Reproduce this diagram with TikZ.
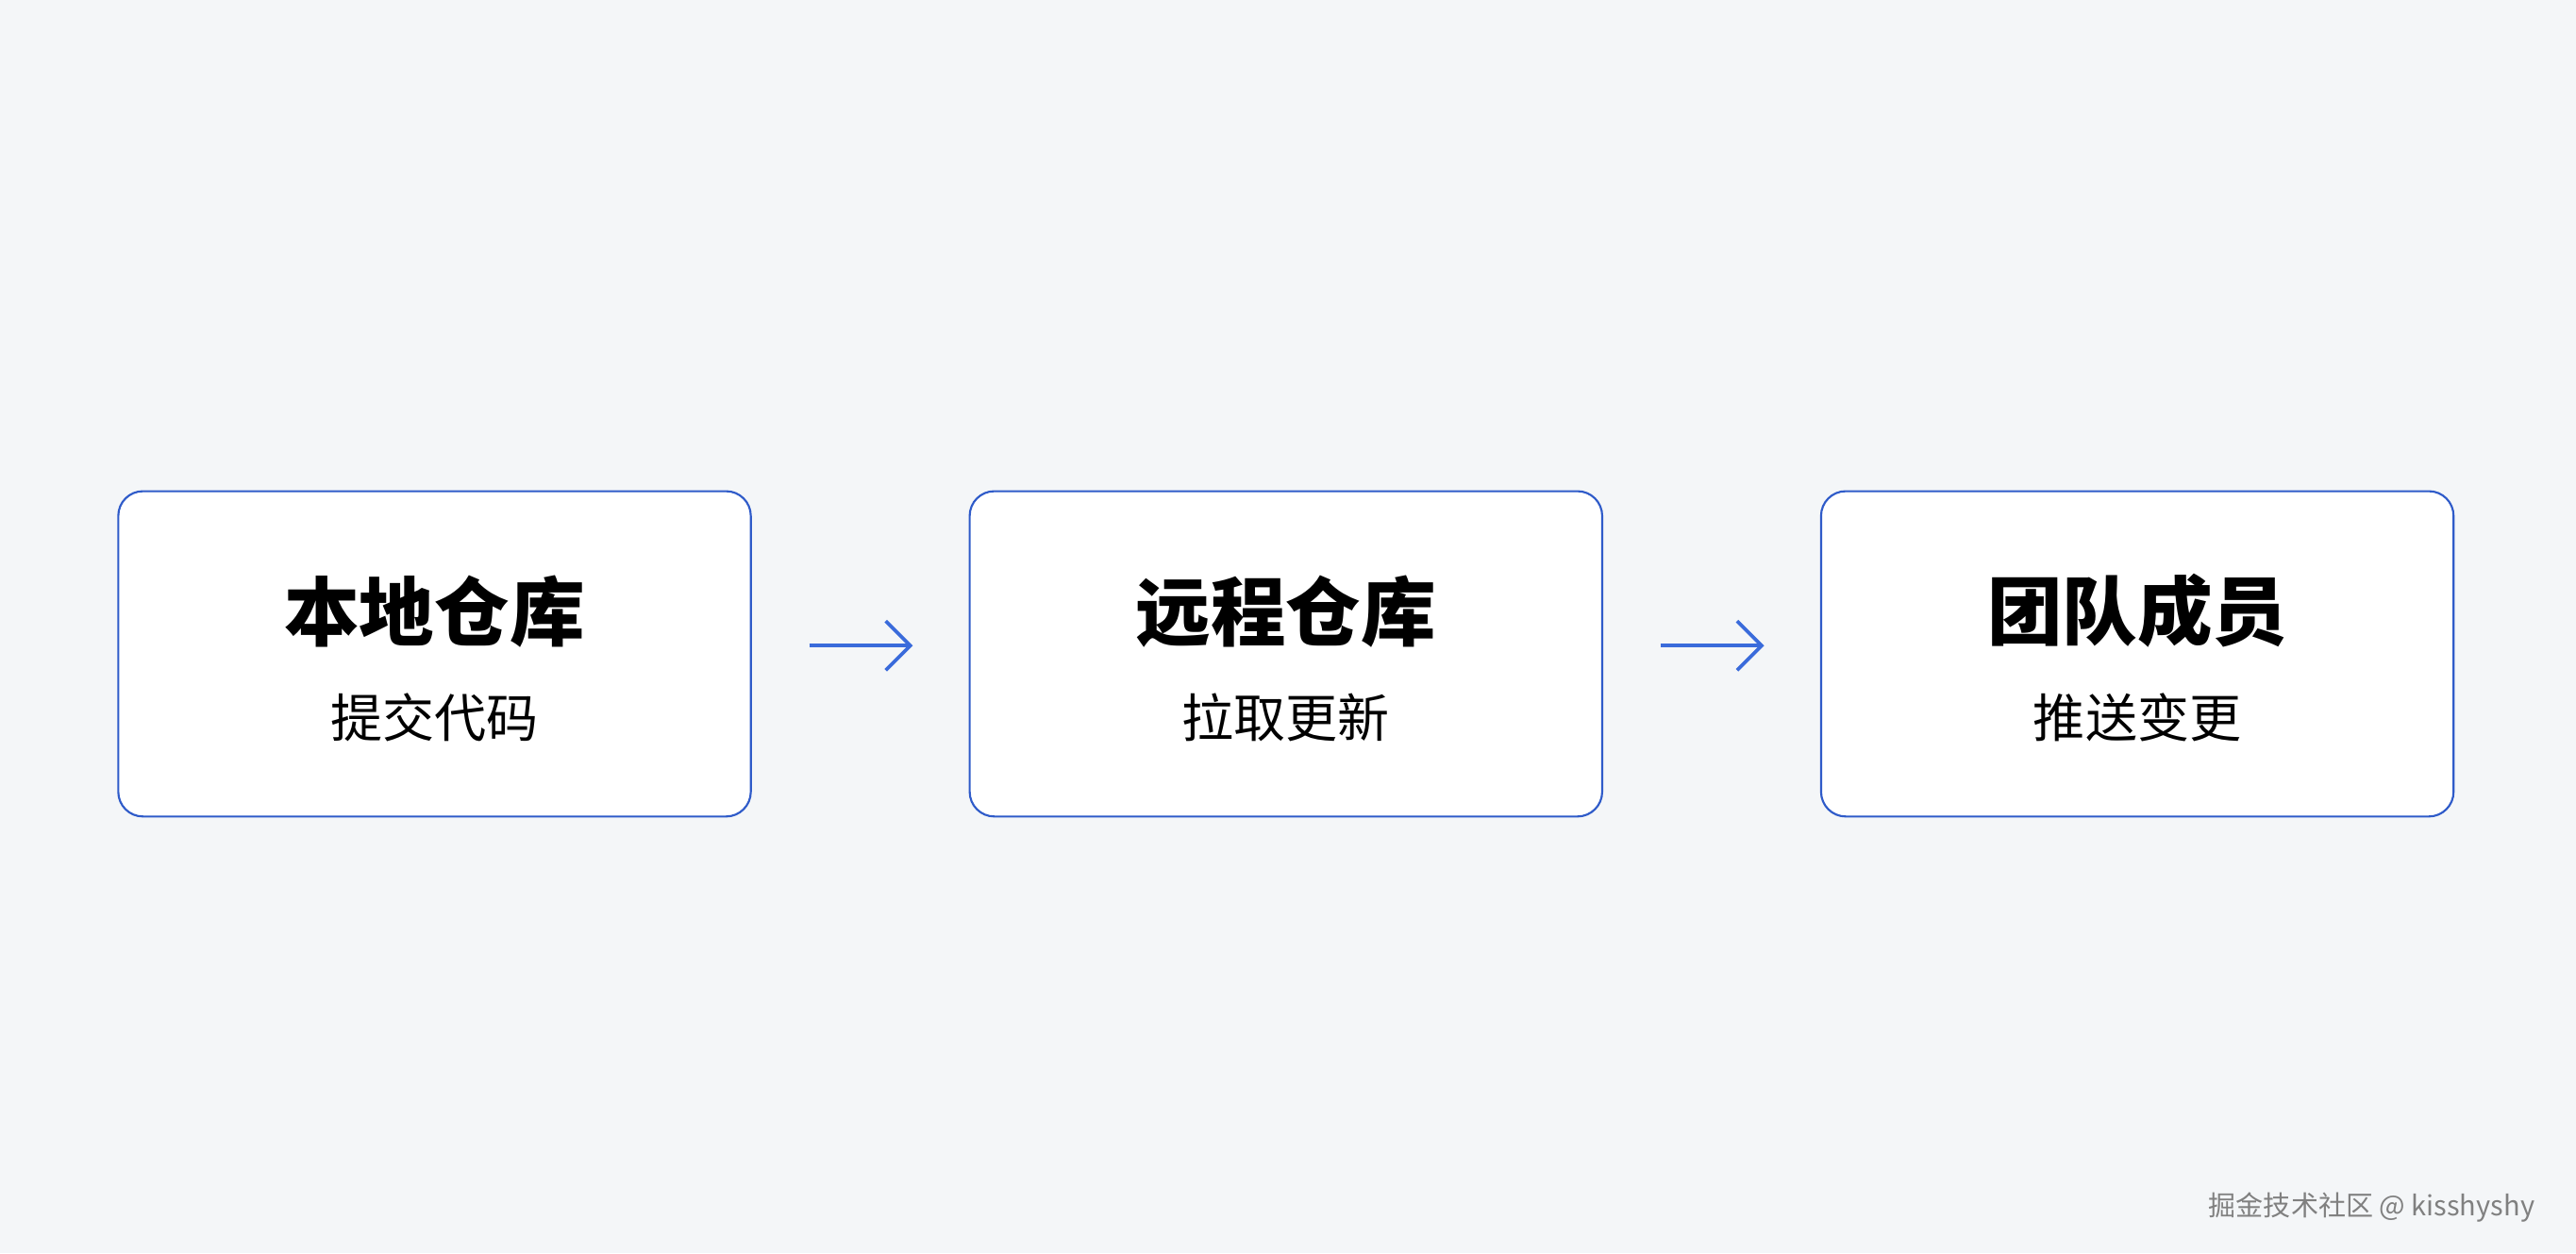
\documentclass[tikz,border=0pt]{standalone}
\usepackage{fontspec}
\newfontfamily\cjk{Noto Sans CJK SC}
\usetikzlibrary{positioning,arrows.meta}
\definecolor{bg}{HTML}{F4F6F8}
\definecolor{boxline}{HTML}{2F5BC9}
\definecolor{arrowblue}{HTML}{3A6BDB}
\begin{document}
\begin{tikzpicture}[
  > = {Straight Barb[length=3mm,width=6mm]},
  repo/.style = {draw=boxline, line width=0.7pt, fill=white, rounded corners=0.3cm,
                 minimum width=7.7cm, minimum height=3.96cm},
  flow/.style = {->, draw=arrowblue, line width=1.2pt, shorten >=0.68cm, shorten <=0.7cm}
  ]
	\fill[bg] (0,0) rectangle (31.36,15.26);
	\useasboundingbox (0,0) rectangle (31.36,15.26);

	\node[repo] (local) at (5.29,7.3) {};
	\node[repo, right=2.64cm of local] (remote) {};
	\node[repo, right=2.64cm of remote] (team) {};

	\node[font=\cjk\bfseries\fontsize{26}{30}\selectfont] (t1) at ([yshift=0.52cm]local.center) {本地仓库};
	\node[font=\cjk\fontsize{18}{22}\selectfont] (s1) at ([yshift=-0.78cm]local.center) {提交代码};
	\node[font=\cjk\bfseries\fontsize{26}{30}\selectfont] (t2) at ([yshift=0.52cm]remote.center) {远程仓库};
	\node[font=\cjk\fontsize{18}{22}\selectfont] (s2) at ([yshift=-0.78cm]remote.center) {拉取更新};
	\node[font=\cjk\bfseries\fontsize{26}{30}\selectfont] (t3) at ([yshift=0.52cm]team.center) {团队成员};
	\node[font=\cjk\fontsize{18}{22}\selectfont] (s3) at ([yshift=-0.78cm]team.center) {推送变更};

	\draw[flow] ([yshift=0.1cm]local.east) -- ([yshift=0.1cm]remote.west);
	\draw[flow] ([yshift=0.1cm]remote.east) -- ([yshift=0.1cm]team.west);

	\node[font=\cjk\fontsize{9.5}{11}\selectfont, text=gray, anchor=east] (mark) at (30.98,0.56) {掘金技术社区 @ kisshyshy};
\end{tikzpicture}
\end{document}
